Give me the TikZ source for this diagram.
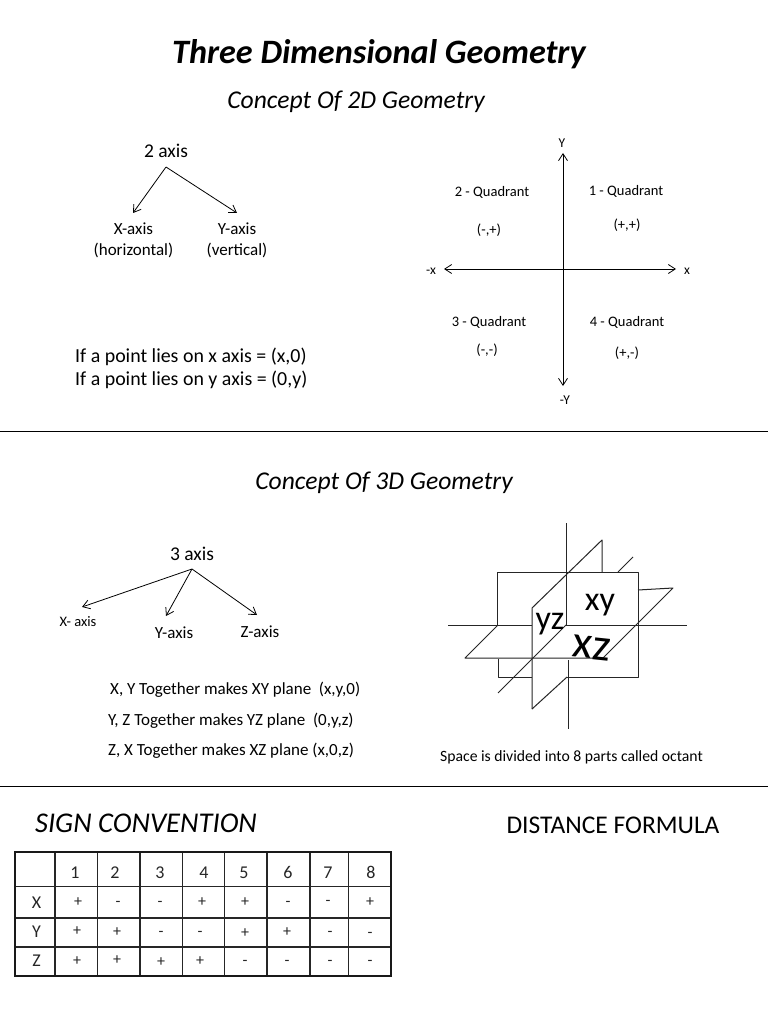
\documentclass[tikz,border=0pt]{standalone}
\usepackage{fontspec}
\setmainfont{Carlito}
\usetikzlibrary{arrows.meta}
\tikzset{
 lab/.style={inner sep=1pt,align=center,text=black},
 arr/.style={draw=black,line width=0.8pt,-{Straight Barb[length=7pt,width=9pt]}},
 axisarr/.style={draw=black,line width=0.8pt,{Straight Barb[length=7pt,width=9pt]}-{Straight Barb[length=7pt,width=9pt]}},
 rule/.style={draw=black,line width=0.7pt},
 pl/.style={draw=black!85,line width=1pt,line join=round},
 gridthin/.style={draw=black!85,line width=1.7pt},
 gridouter/.style={draw=black!90,line width=2.6pt},
 signcell/.style={inner sep=0pt,font=\fontsize{16}{18}\selectfont,text=black!85,text height=7.5pt,text depth=0pt},
 numcell/.style={inner sep=0pt,font=\fontsize{18}{20}\selectfont,text=black!85,text height=11.5pt,text depth=0pt},
}
\newcommand{\sz}[1]{\fontsize{#1}{\the\dimexpr #1pt*5/4\relax}\selectfont}
\begin{document}
\begin{tikzpicture}[x=1pt,y=-1pt]
\useasboundingbox (0,0) rectangle (768,1024);
\fill[white] (0,0) rectangle (768,1024);
% headings
\node[lab,font=\sz{34.2}\bfseries\itshape] (title) at (379,54) {Three Dimensional Geometry};
\node[lab,font=\sz{25.6}\itshape] (h2d) at (356,102) {Concept Of 2D Geometry};
\node[lab,font=\sz{25.6}\itshape] (h3d) at (384,483) {Concept Of 3D Geometry};
\node[lab,font=\sz{28.6}\itshape] (hsign) at (146,823) {SIGN CONVENTION};
\node[lab,font=\sz{25.5}] (hdist) at (613,825) {DISTANCE FORMULA};
% rules
\coordinate (r1a) at (0,431); \coordinate (r1b) at (768,431);
\coordinate (r2a) at (0,786); \coordinate (r2b) at (768,786);
\draw[rule] (r1a)--(r1b); \draw[rule] (r2a)--(r2b);
% 2 axis tree
\node[lab,font=\sz{19.5}] (two) at (166,151) {2 axis};
\node[lab,font=\fontsize{17}{21}\selectfont] (xax) at (133.5,240) {X-axis\\(horizontal)};
\node[lab,font=\fontsize{17}{21}\selectfont] (yax) at (237,240) {Y-axis\\(vertical)};
\coordinate (hub2) at (166,167);
\coordinate (xax2) at (133,213);
\coordinate (yax2) at (237,213);
\draw[arr] (hub2)--(xax2);
\draw[arr] (hub2)--(yax2);
\node[lab,font=\fontsize{19.9}{23}\selectfont,align=left,anchor=west] (pts) at (74,368) {If a point lies on x axis = (x,0)\\If a point lies on y axis = (0,y)};
% quadrants
\node[lab,font=\sz{13.5}] (yp) at (562,143) {Y};
\node[lab,font=\sz{13.5}] (yn) at (565,400) {-Y};
\node[lab,font=\sz{13.5}] (xn) at (431,271) {-x};
\node[lab,font=\sz{13.5}] (xp) at (687,271) {x};
\coordinate (ya) at (563,153); \coordinate (yb) at (563,386);
\draw[axisarr] (ya)--(yb);
\coordinate (xa) at (444,269); \coordinate (xb) at (676,269);
\draw[axisarr] (xa)--(xb);
\node[lab,font=\sz{14.5}] (q2) at (492,192) {2 - Quadrant};
\node[lab,font=\sz{14.5}] (q1) at (626,191) {1 - Quadrant};
\node[lab,font=\sz{14.5}] (q3) at (489,322) {3 - Quadrant};
\node[lab,font=\sz{14.5}] (q4) at (627,322) {4 - Quadrant};
\node[lab,font=\sz{14.5}] (s2) at (489,230) {(-,+)};
\node[lab,font=\sz{14.5}] (s1) at (627,225) {(+,+)};
\node[lab,font=\sz{14.5}] (s3) at (487,350) {(-,-)};
\node[lab,font=\sz{14.5}] (s4) at (627,353) {(+,-)};
% 3 axis tree
\node[lab,font=\sz{19.5}] (three) at (192,554) {3 axis};
\node[lab,font=\sz{14.5}] (x3) at (78,622) {X- axis};
\node[lab,font=\sz{17}] (y3) at (174,633) {Y-axis};
\node[lab,font=\sz{17}] (z3) at (260,632) {Z-axis};
\coordinate (hub3) at (192,569);
\coordinate (x3t) at (82,607);
\coordinate (y3t) at (166,616);
\coordinate (z3t) at (257,615);
\draw[arr] (hub3)--(x3t);
\draw[arr] (hub3)--(y3t);
\draw[arr] (hub3)--(z3t);
\node[lab,font=\sz{17},anchor=west] (t1) at (109,690) {X, Y Together makes XY plane\ \ (x,y,0)};
\node[lab,font=\sz{17},anchor=west] (t2) at (107,721) {Y, Z Together makes YZ plane\ \ (0,y,z)};
\node[lab,font=\sz{17},anchor=west] (t3) at (107,751) {Z, X Together makes XZ plane (x,0,z)};
\node[lab,font=\sz{15.7}] (oct) at (571.5,757.5) {Space is divided into 8 parts called octant};
% planes figure
\draw[pl] (566,523)--(566,625);
\draw[pl] (568,660)--(568,729);
\draw[pl] (497,625)--(497,572)--(638,572)--(638,677)--(567,677);
\draw[pl] (498,659)--(498,677)--(532,677);
\draw[pl] (532,709)--(532,608)--(602,540)--(602,572);
\draw[pl] (532,709)--(567,677);
\draw[pl] (448,625)--(532,625);
\draw[pl] (566,625)--(687,625);
\draw[pl] (498,625)--(465,658)--(603,658)--(673,588)--(638,590);
\draw[pl] (498,693)--(566,625);
\draw[pl] (618,572)--(633,557);
\node[lab,font=\sz{34}] (lxy) at (600,605) {xy};
\node[lab,font=\sz{34}] (lyz) at (550,624) {yz};
\node[lab,inner sep=0pt,font=\sz{46},rotate=-6] (lxz) at (592,648) {xz};
% table
\foreach \y in {886.5,918,947}{\draw[gridthin] (15,\y)--(391,\y);}
\foreach \x in {55,97.5,140,182.5,224.5,267,310,348.5}{\draw[gridthin] (\x,852)--(\x,976);}
\draw[gridouter] (15,852) rectangle (391,976);
\foreach \t/\x in {1/75,2/115,3/160,4/204,5/244,6/288,7/328,8/371}{\node[numcell] (c\t) at (\x,873) {\t};}
\node[numcell] (rx) at (36.5,903) {X};
\node[numcell] (ry) at (36.5,932) {Y};
\node[numcell] (rz) at (36.5,961) {Z};
\foreach \n/\x/\y/\s in {a1/78/903/+,a2/118/903/-,a3/160/903/-,a4/202/903/+,a5/245/903/+,a6/288/903/-,a7/328/902/-,a8/370/903/+,
 b1/77/932/+,b2/117/933/+,b3/161/933/-,b4/200/933/-,b5/245/934/+,b6/287/933/+,b7/330/933/-,b8/370/934/-,
 d1/77/962/+,d2/117/961/+,d3/161/963/+,d4/200/962/+,d5/245/962/-,d6/287/962/-,d7/330/962/-,d8/370/962/-}{\node[signcell] (\n) at (\x,\y) {\s};}
\end{tikzpicture}
\end{document}
